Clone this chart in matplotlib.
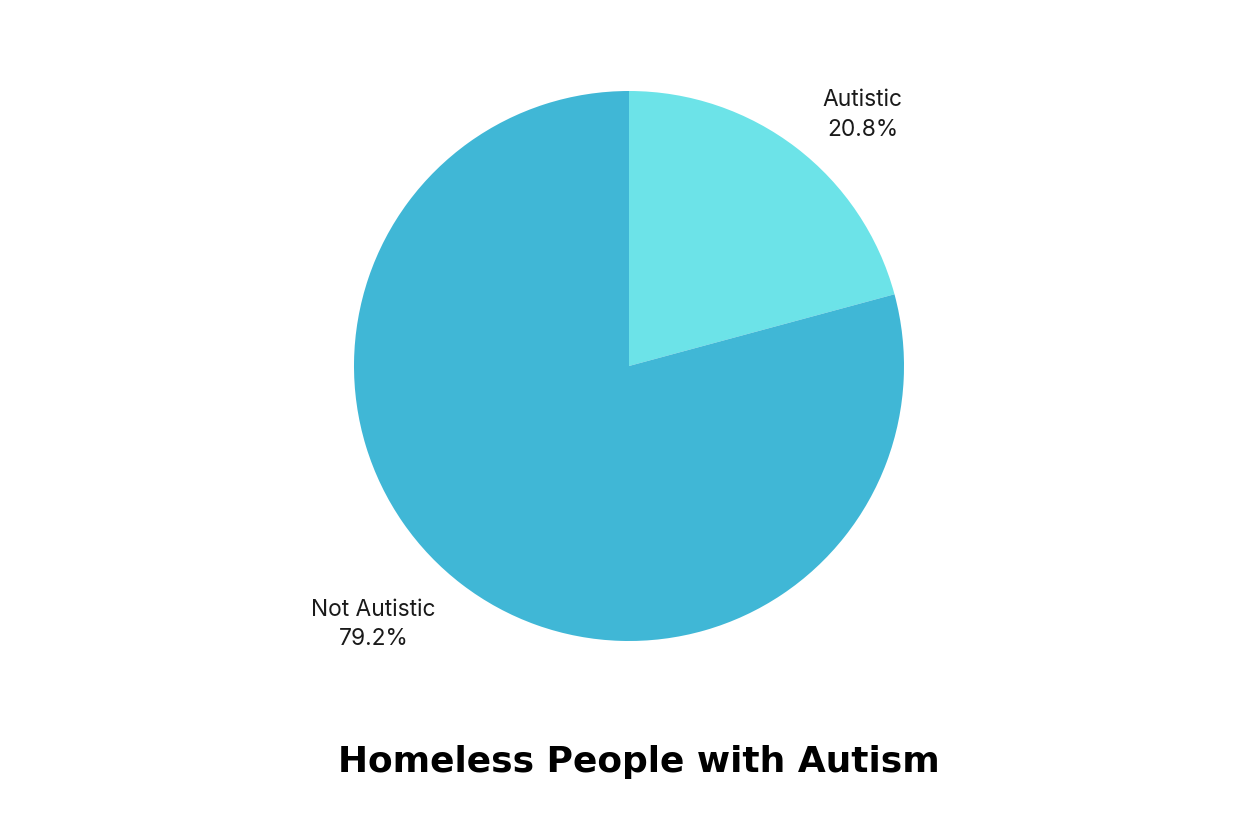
import matplotlib
matplotlib.use("Agg")
import matplotlib.pyplot as plt

# 数据
labels = ["Autistic", "Not Autistic"]
shares = [20.8, 79.2]
colors = ["#6ce3e8", "#40b7d6"]
title = "Homeless People with Autism"

fig = plt.figure(figsize=(12.6, 8.4), dpi=100)
fig.patch.set_facecolor("white")

# pie area: center (629,366) px, radius 275 px
ax = fig.add_axes([354 / 1260, 199 / 840, 550 / 1260, 550 / 840])
wedges, _ = ax.pie(shares, colors=colors, startangle=90, counterclock=False,
                   radius=1, wedgeprops=dict(linewidth=0))
ax.set_xlim(-1, 1)
ax.set_ylim(-1, 1)
ax.set_aspect("equal")
ax.axis("off")

# labels
label_pos = [(0.85, 0.912), (-0.93, -0.94)]
for lab, val, (x, y) in zip(labels, shares, label_pos):
    ax.text(x, y, lab + "\n" + str(val) + "%", ha="center", va="center",
            fontsize=16.4, family=["Inter", "DejaVu Sans"], color="#1a1a1a",
            linespacing=1.45, clip_on=False)

fig.text(638.5 / 1260, 1 - 762 / 840, title, ha="center", va="center",
         fontsize=25.9, fontweight="bold", family="DejaVu Sans", color="black")

fig.savefig("out.png", dpi=100)
